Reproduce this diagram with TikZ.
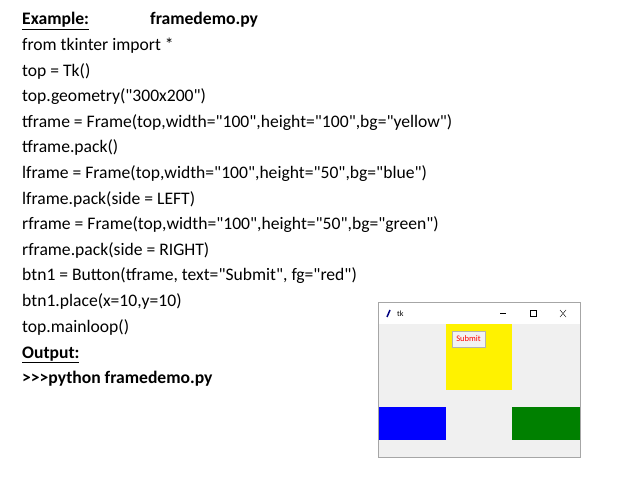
\documentclass[tikz,border=0pt]{standalone}
\usepackage{fontspec}
\setmainfont{Carlito}[Ligatures=TeXOff]
\begin{document}
\begin{tikzpicture}[x=1pt,y=-1pt,
  code/.style={anchor=base west,inner sep=0pt,font=\fontsize{17.6}{20}\selectfont},
  win/.style={draw=gray!70,line width=1pt}]
\useasboundingbox[fill=white] (0,0) rectangle (638,478);
\node[code] (l0) at (22,25) {\textbf{\underline{Example:}}};
\node[code] (l0b) at (150,25) {\textbf{framedemo.py}};
\foreach \t [count=\i] in {
 {from tkinter import *},
 {top = Tk()},
 {top.geometry("300x200")},
 {tframe = Frame(top,width="100",height="100",bg="yellow")},
 {tframe.pack()},
 {lframe = Frame(top,width="100",height="50",bg="blue")},
 {lframe.pack(side = LEFT)},
 {rframe = Frame(top,width="100",height="50",bg="green")},
 {rframe.pack(side = RIGHT)},
 {btn1 = Button(tframe, text="Submit", fg="red")},
 {btn1.place(x=10,y=10)},
 {top.mainloop()}}
 \node[code] (c\i) at (22,25+25.6*\i) {\t};
\node[code] (out) at (22,358.5) {\textbf{\underline{Output:}}};
\node[code] (cmd) at (22,384) {\textbf{>>>python framedemo.py}};
% window
\fill[white] (378,303) rectangle (580,324);
\fill[black!6] (378,324) rectangle (580,458);
\fill[yellow] (446,324) rectangle (512,390);
\fill[blue] (378,407) rectangle (446,440);
\fill[green!50!black] (512,407) rectangle (580,440);
\node[draw=gray!60,fill=black!5,minimum width=33,minimum height=16,inner sep=0pt,
  text=red,font=\fontsize{8.5}{9}\selectfont] (btn) at (468.5,339) {Submit};
\draw[win] (378,303) rectangle (580,458);
\node[font=\fontsize{8}{9}\selectfont,anchor=west,inner sep=0pt] (tk) at (397,313.5) {tk};
\draw[blue!50!black,line width=1.5pt] (387,317) -- (390,310);
\draw (500,313.5) -- (506,313.5);
\draw (530,310) rectangle (536,316);
\draw (560,310) -- (566,317) (560,317) -- (566,310);
\end{tikzpicture}
\end{document}
